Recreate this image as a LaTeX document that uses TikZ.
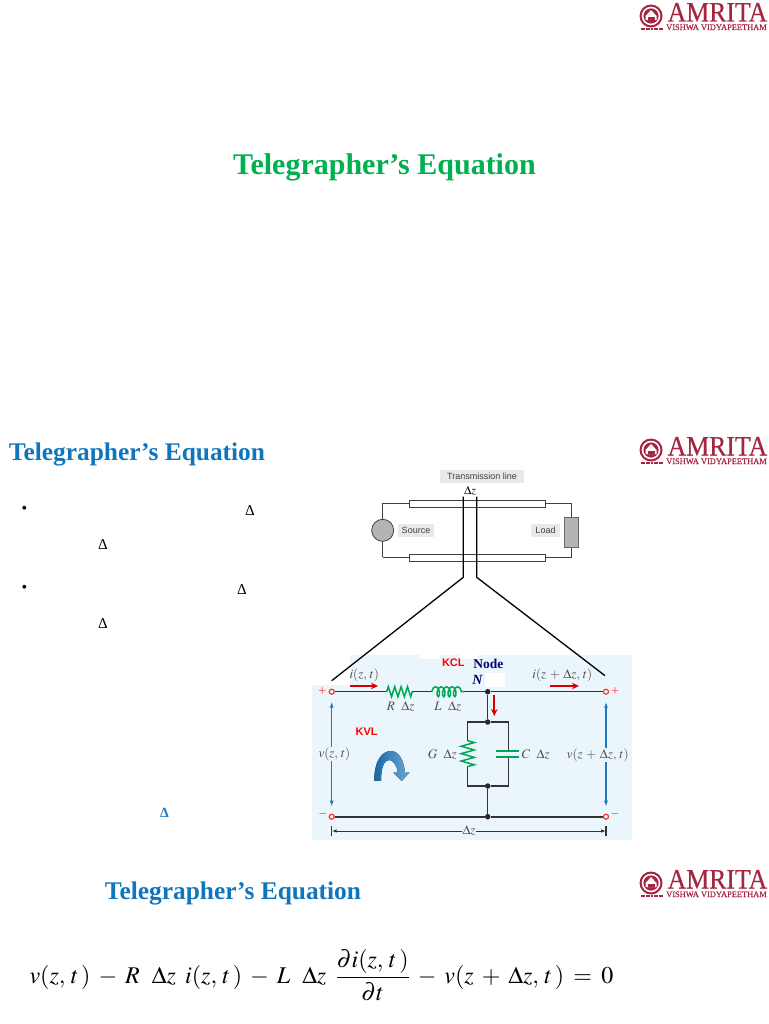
\documentclass[tikz,border=0pt]{standalone}
\usepackage{mathptmx}
\usepackage[no-math]{fontspec}
\setmainfont{Liberation Serif}
\newfontfamily\labelsans{Liberation Sans}
\newfontfamily\logoserif[FakeBold=0.35]{Liberation Serif}
\usetikzlibrary{arrows.meta,decorations.pathmorphing}
\definecolor{logored}{HTML}{A6263F}
\definecolor{headgreen}{HTML}{00B050}
\definecolor{headblue}{HTML}{0F75BD}
\definecolor{panelblue}{HTML}{EAF5FC}
\definecolor{wiregreen}{HTML}{00A651}
\definecolor{voltblue}{HTML}{1B7AC2}
\definecolor{labelgrey}{HTML}{E9E9E9}
\definecolor{partgrey}{HTML}{B4B4B4}
\newcommand{\fsz}[1]{\fontsize{#1}{#1}\selectfont}
\tikzset{
    heading/.style={font=\fsz{25.4}\bfseries, text=headblue, inner sep=0pt},
    delta/.style={font=\fsz{15}, inner sep=0pt},
    grey label/.style={fill=labelgrey, text=black!75, font=\labelsans\fsz{9}, inner sep=0pt},
    wire/.style={draw=black!80, line width=1.3pt},
    part wire/.style={draw=black!75, line width=1pt},
    zoom line/.style={draw=black, line width=1.3pt},
    value/.style={text=black!70, font=\fsz{13}, inner sep=0.5pt},
    red arrow/.style={draw=red!85!black, line width=1.8pt, -{Stealth[length=7pt,width=6.5pt]}},
    volt arrow/.style={draw=voltblue, line width=1.3pt, {Latex[length=6pt,width=4pt]}-{Latex[length=6pt,width=4pt]}},
    red word/.style={text=red, font=\labelsans\fsz{11}\bfseries, inner sep=0pt},
    terminal/.style={circle, draw=red!80, line width=1.2pt, fill=panelblue, inner sep=0pt, minimum size=5pt},
    sign/.style={text=red!75, font=\fsz{14}, inner sep=0pt},
    junction/.style={circle, fill=black!85, inner sep=0pt, minimum size=5.5pt},
    zigzag part/.style={draw=wiregreen, line width=1.5pt, decorate, decoration={zigzag, segment length=6.4pt, amplitude=5pt}},
    coil part/.style={draw=wiregreen, line width=1.5pt, decorate, decoration={coil, segment length=5.5pt, amplitude=5pt, aspect=0.5}},
    amritalogo/.pic={
        \fill [logored] (11,16) circle (11.5);
        \fill [white] (11,16) circle (9.3);
        \fill [logored] (11,16) circle (7.6);
        \fill [white] (5.5,20) -- (16.5,20) -- (16.5,16) -- (11,10) -- (5.5,16) -- cycle;
        \fill [logored] (7.5,20) rectangle (14.5,17);
        \draw [logored, line width=1.6pt, dash pattern=on 2pt off 0.6pt] (0.5,28.8) -- (23,28.8);
        \node (title) [text=logored, font=\logoserif\fsz{28}, xscale=0.92, inner sep=0pt, anchor=base west] at (27.5,21.5) {AMRITA};
        \node (sub) [text=logored, font=\logoserif\fsz{8.4}, inner sep=0pt, anchor=base west] at (26,30) {VISHWA VIDYAPEETHAM};
    }
}
\begin{document}
\begin{tikzpicture}[x=1pt, y=-1pt]
    \useasboundingbox (0,0) rectangle (768,1024);
    \fill [white] (0,0) rectangle (768,1024);

    % logos and headings
    \pic (logoa) at (640,0) {amritalogo};
    \pic (logob) at (640,434) {amritalogo};
    \pic (logoc) at (640,867) {amritalogo};
    \node (headtop) [heading, font=\fsz{30}\bfseries, text=headgreen] at (384.5,167) {Telegrapher’s Equation};
    \node (headmid) [heading] at (137,454.5) {Telegrapher’s Equation};
    \node (headlow) [heading] at (233,893.5) {Telegrapher’s Equation};

    % left column
    \node (bulleta) [font=\fsz{16}, inner sep=0pt] at (24.5,510) {•};
    \node (bulletb) [font=\fsz{16}, inner sep=0pt] at (24.5,589) {•};
    \node (deltaa) [delta] at (250,511) {Δ};
    \node (deltab) [delta] at (103,545) {Δ};
    \node (deltac) [delta] at (242,590) {Δ};
    \node (deltad) [delta] at (103,624) {Δ};
    \node (deltae) [delta, font=\fsz{14}\bfseries, text=voltblue] at (164.5,813) {Δ};

    % transmission line
    \coordinate (srctop) at (382.7,503.3);
    \coordinate (srcbot) at (382.7,557.3);
    \coordinate (loadtop) at (571.3,503.3);
    \coordinate (loadbot) at (571.3,557.3);
    \draw [part wire] (srcbot) -- (srctop) -- (loadtop) -- (loadbot) -- (srcbot);
    \draw [part wire, fill=white] (409.3,500) rectangle (545,507.2);
    \draw [part wire, fill=white] (409.3,554) rectangle (545,561);
    \node (source) [circle, draw=black!75, fill=partgrey, line width=0.8pt, minimum size=22pt, inner sep=0pt] at (382.7,530.3) {};
    \node (load) [draw=black!60, fill=partgrey, line width=0.8pt, minimum width=14pt, minimum height=30.5pt, inner sep=0pt] at (571.7,532.5) {};
    \node (linelabel) [grey label, minimum width=84pt, minimum height=13pt] at (482,476.5) {Transmission line};
    \node (sourcelabel) [grey label, minimum width=36pt, minimum height=13pt] at (416,530) {Source};
    \node (loadlabel) [grey label, minimum width=29pt, minimum height=13pt] at (545.5,530) {Load};
    \node (dztop) [value, text=black, font=\fsz{12}] at (470,491) {$\Delta z$};

    % blue panel behind the circuit
    \fill [panelblue] (312,655) rectangle (632,840);
    \fill [white] (312,655) rectangle (350,685);
    \fill [white] (420,653) rectangle (440,659);
    \fill [white] (460,653) rectangle (477,659);
    \fill [white] (485,673) rectangle (505,687);

    % zoom lines
    \coordinate (leftstart) at (463.3,496.7);
    \coordinate (rightstart) at (476.7,496.7);
    \coordinate (leftbend) at (463.3,577.3);
    \coordinate (rightbend) at (476.7,577.3);
    \coordinate (leftend) at (331.7,680.7);
    \coordinate (rightend) at (605,675.7);
    \draw [zoom line, line join=round] (leftstart) -- (leftbend) -- (leftend);
    \draw [zoom line, line join=round] (rightstart) -- (rightbend) -- (rightend);

    % circuit
    \node (tl) [terminal] at (331.7,691.7) {};
    \node (bl) [terminal] at (331.7,816.7) {};
    \node (tr) [terminal] at (606,691.7) {};
    \node (br) [terminal] at (606,816.7) {};
    \node (ntop) [junction] at (487.7,691.7) {};
    \node (nupper) [junction] at (487.7,722) {};
    \node (nlower) [junction] at (487.7,786) {};
    \node (nbot) [junction] at (487.7,816.7) {};
    \coordinate (ra) at (386.7,691.7);
    \coordinate (rb) at (412.3,691.7);
    \coordinate (la) at (431.7,691.7);
    \coordinate (lb) at (464.3,691.7);
    \coordinate (ga) at (467.7,740.7);
    \coordinate (gb) at (467.7,766.7);
    \coordinate (ca) at (508.3,750.7);
    \coordinate (cb) at (508.3,757.3);
    \draw [wire] (tl) -- (ra);
    \draw [wire] (rb) -- (la);
    \draw [wire] (lb) -- (ntop) -- (tr);
    \draw [wire, line width=1.8pt] (bl) -- (nbot) -- (br);
    \draw [wire] (ntop) -- (nupper);
    \draw [wire] (nlower) -- (nbot);
    \draw [wire] (ga) -- (467.7,722) -- (nupper) -- (508.3,722) -- (ca);
    \draw [wire] (gb) -- (467.7,786) -- (nlower) -- (508.3,786) -- (cb);
    \draw [zigzag part] (ra) -- (rb);
    \draw [coil part] (la) -- (lb);
    \draw [zigzag part, decoration={zigzag, segment length=7.4pt, amplitude=6.5pt}] (ga) -- (gb);
    \draw [draw=wiregreen, line width=2pt] (496,750.7) -- (519,750.7);
    \draw [draw=wiregreen, line width=2pt] (496,757.3) -- (519,757.3);

    % signs and labels
    \node (plusl) [sign] at (322.3,691.7) {+};
    \node (minusl) [sign] at (322.7,816) {−};
    \node (plusr) [sign] at (615,691.7) {+};
    \node (minusr) [sign] at (615,815.7) {−};
    \node (il) [value] at (364.3,675.7) {$i(z,\,t)$};
    \node (ir) [value] at (562.3,675.3) {$i(z\mskip5mu{+}\mskip5mu\Delta z,\,t)$};
    \node (rlabel) [value] at (400.7,706.7) {$R\ \ \Delta z$};
    \node (llabel) [value] at (447.7,706.7) {$L\ \ \Delta z$};
    \node (glabel) [value] at (442.3,754.3) {$G\ \ \Delta z$};
    \node (clabel) [value] at (535.7,754.3) {$C\ \ \Delta z$};
    \node (kcl) [red word] at (453.3,662.3) {KCL};
    \node (kvl) [red word] at (366.7,732) {KVL};
    \node (nodeword) [text=blue!45!black, font=\fsz{13.5}\bfseries, inner sep=0pt] at (488.3,664.3) {Node};
    \node (nodeletter) [text=blue!45!black, font=\fsz{14}\bfseries\itshape, inner sep=0pt] at (477.3,680.3) {N};
    \coordinate (ila) at (350,686);
    \coordinate (ilb) at (378,686);
    \coordinate (ira) at (550,686);
    \coordinate (irb) at (579,686);
    \coordinate (ina) at (494.3,695);
    \coordinate (inb) at (494.3,716);
    \draw [red arrow] (ila) -- (ilb);
    \draw [red arrow] (ira) -- (irb);
    \draw [red arrow] (ina) -- (inb);

    % voltages
    \coordinate (vla) at (331.7,701.7);
    \coordinate (vlb) at (331.7,806.7);
    \coordinate (vra) at (606,701.7);
    \coordinate (vrb) at (606,806.7);
    \draw [volt arrow] (vla) -- (vlb);
    \draw [volt arrow] (vra) -- (vrb);
    \node (vl) [value, fill=panelblue] at (334.3,754.3) {$v(z,\,t)$};
    \node (vr) [value, fill=panelblue] at (597.7,755) {$v(z\mskip5mu{+}\mskip5mu\Delta z,\,t)$};

    % loop arrow
    \fill [left color=voltblue!85!black, right color=voltblue!65!white]
        (374.3,781) .. controls (374,761) and (382,751) .. (391,751)
        .. controls (399,751) and (404,761) .. (405,772.7) -- (409.3,772.7) -- (401.7,781) -- (393.3,772.7) -- (397.7,772.7)
        .. controls (397,765) and (393,760) .. (389,760)
        .. controls (384,760) and (381,768) .. (381,780.7) -- cycle;

    % length bar
    \node (dzb) [value] at (469,831) {$\Delta z$};
    \coordinate (bara) at (331.7,826);
    \coordinate (barb) at (331.7,836);
    \coordinate (barc) at (606,826);
    \coordinate (bard) at (606,836);
    \coordinate (arrl) at (331.7,831);
    \coordinate (arrr) at (606,831);
    \draw [wire, line width=1.5pt] (bara) -- (barb);
    \draw [wire, line width=1.5pt] (barc) -- (bard);
    \draw [wire, line width=1pt, -{Latex[length=5pt,width=3.5pt]}] (dzb.west) -- (arrl);
    \draw [wire, line width=1pt, -{Latex[length=5pt,width=3.5pt]}] (dzb.east) -- (arrr);

    % equation
    \node (equation) [inner sep=0pt, font=\fsz{24}] at (321.5,975) {$\displaystyle \medmuskip=6mu \thickmuskip=7mu v(z,\,t\,)-R\;\,\Delta z\;i(z,\,t\,)-L\;\,\Delta z\;\frac{\partial i(z,\,t\,)}{\partial t}-v(z+\Delta z,\,t\,)=0$};
\end{tikzpicture}
\end{document}
